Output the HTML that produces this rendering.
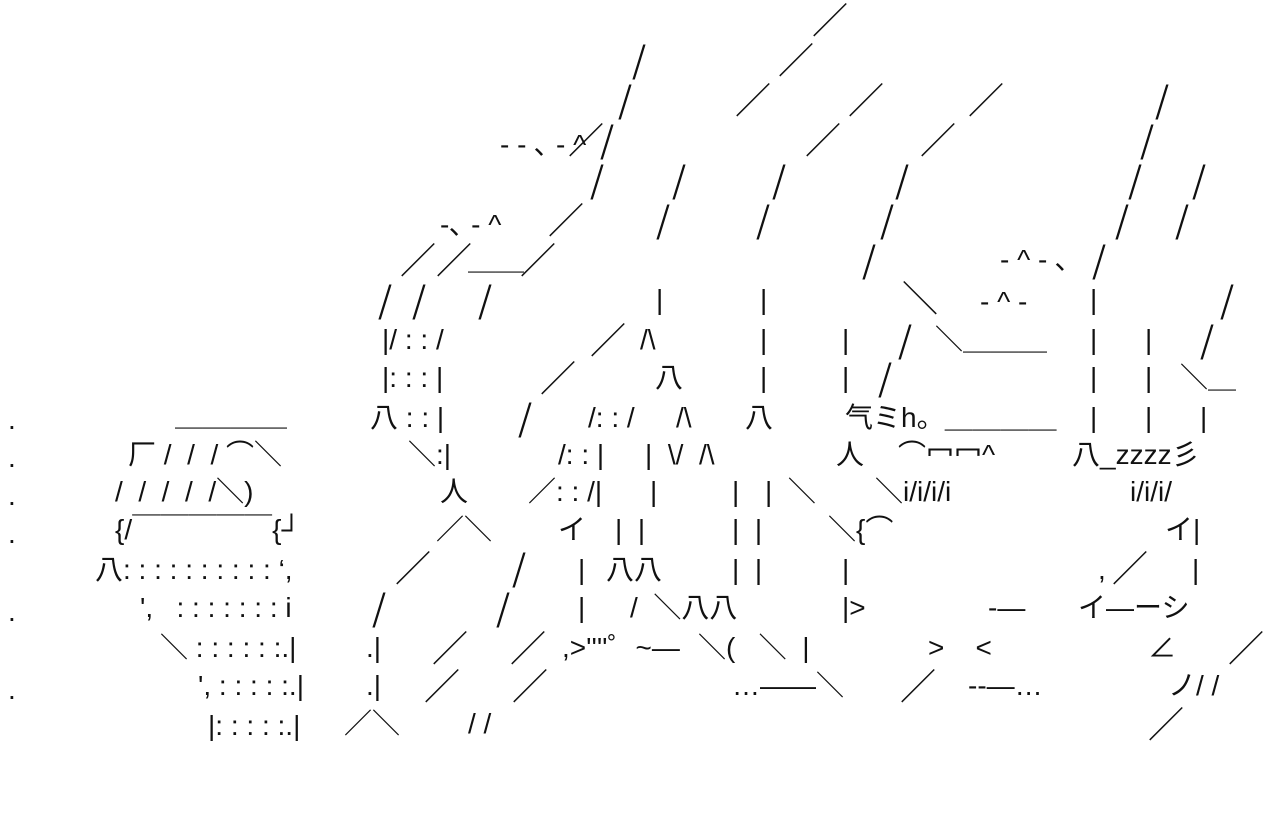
<!DOCTYPE html>
<html><head><meta charset="utf-8"><style>
html,body{margin:0;padding:0;background:#fff;}
#c{position:relative;width:1265px;height:819px;overflow:hidden;background:#fff;}
#c span{position:absolute;white-space:pre;font-family:"Liberation Sans","Noto Sans CJK JP",sans-serif;font-size:28px;line-height:40px;color:#111;}
#c span.b{font-size:36px;font-family:"Noto Sans CJK JP",sans-serif;}
</style></head><body><div id="c">
<span class="b" style="left:812px;top:-2px">／</span>
<span class="b" style="left:632px;top:38px">/</span><span class="b" style="left:778px;top:38px">／</span>
<span class="b" style="left:618px;top:78px">/</span><span class="b" style="left:735px;top:78px">／</span><span class="b" style="left:848px;top:78px">／</span><span class="b" style="left:968px;top:78px">／</span><span class="b" style="left:1155px;top:78px">/</span>
<span style="left:500px;top:125px">- ‐ ､ - ^</span><span class="b" style="left:568px;top:118px">／</span><span class="b" style="left:600px;top:118px">/</span><span class="b" style="left:805px;top:118px">／</span><span class="b" style="left:920px;top:118px">／</span><span class="b" style="left:1140px;top:118px">/</span>
<span class="b" style="left:590px;top:158px">/</span><span class="b" style="left:672px;top:158px">/</span><span class="b" style="left:772px;top:158px">/</span><span class="b" style="left:895px;top:158px">/</span><span class="b" style="left:1128px;top:158px">/</span><span class="b" style="left:1192px;top:158px">/</span>
<span style="left:440px;top:205px">-､ - ^</span><span class="b" style="left:548px;top:198px">／</span><span class="b" style="left:656px;top:198px">/</span><span class="b" style="left:756px;top:198px">/</span><span class="b" style="left:880px;top:198px">/</span><span class="b" style="left:1115px;top:198px">/</span><span class="b" style="left:1175px;top:198px">/</span>
<span class="b" style="left:400px;top:238px">／</span><span class="b" style="left:436px;top:238px">／</span><span style="left:468px;top:240px">＿＿</span><span class="b" style="left:520px;top:238px">／</span><span class="b" style="left:862px;top:238px">/</span><span style="left:1000px;top:240px">- ^ - ､</span><span class="b" style="left:1092px;top:238px">/</span>
<span class="b" style="left:378px;top:278px">/</span><span class="b" style="left:412px;top:278px">/</span><span class="b" style="left:478px;top:278px">/</span><span style="left:656px;top:280px">|</span><span style="left:760px;top:280px">|</span><span class="b" style="left:902px;top:276px">＼</span><span style="left:980px;top:282px">- ^ -</span><span style="left:1090px;top:280px">|</span><span class="b" style="left:1220px;top:278px">/</span>
<span style="left:382px;top:320px">|/ : : /</span><span class="b" style="left:590px;top:318px">／</span><span style="left:640px;top:320px">/\</span><span style="left:760px;top:320px">|</span><span style="left:842px;top:320px">|</span><span class="b" style="left:898px;top:318px">/</span><span style="left:935px;top:320px">＼＿＿＿</span><span style="left:1090px;top:320px">|</span><span style="left:1145px;top:320px">|</span><span class="b" style="left:1200px;top:318px">/</span>
<span style="left:382px;top:358px">|: : : |</span><span class="b" style="left:540px;top:356px">／</span><span style="left:655px;top:358px">八</span><span style="left:760px;top:358px">|</span><span style="left:842px;top:358px">|</span><span class="b" style="left:878px;top:356px">/</span><span style="left:1090px;top:358px">|</span><span style="left:1145px;top:358px">|</span><span style="left:1180px;top:358px">＼＿</span>
<span style="left:8px;top:400px">.</span><span style="left:175px;top:396px">＿＿＿＿</span><span style="left:370px;top:398px">八 : : |</span><span class="b" style="left:518px;top:396px">/</span><span style="left:588px;top:398px">/: : /</span><span style="left:676px;top:398px">/\</span><span style="left:745px;top:398px">八</span><span style="left:845px;top:398px">气ミh。＿＿＿＿</span><span style="left:1090px;top:398px">|</span><span style="left:1145px;top:398px">|</span><span style="left:1200px;top:398px">|</span>
<span style="left:8px;top:438px">.</span><span style="left:128px;top:435px">厂 /  /  / ⌒＼</span><span style="left:408px;top:435px">＼:|</span><span style="left:558px;top:435px">/: : |</span><span style="left:645px;top:435px">|  \/  /\</span><span style="left:836px;top:435px">人</span><span style="left:898px;top:435px">⌒冖冖^</span><span style="left:1072px;top:435px">八_zzzz彡</span>
<span style="left:8px;top:476px">.</span><span style="left:115px;top:472px">/  /  /  /  /＼)</span><span style="left:440px;top:472px">人</span><span style="left:528px;top:472px">／: : /|</span><span style="left:650px;top:472px">|</span><span style="left:732px;top:472px">|</span><span style="left:765px;top:472px">|  ＼</span><span style="left:875px;top:472px">＼i/i/i/i</span><span style="left:1130px;top:472px">i/i/i/</span>
<span style="left:8px;top:514px">.</span><span style="left:115px;top:510px">{/￣￣￣￣￣{┘</span><span style="left:436px;top:510px">／＼</span><span style="left:558px;top:510px">イ</span><span style="left:615px;top:510px">|  |</span><span style="left:732px;top:510px">|  |</span><span style="left:828px;top:510px">＼{⌒</span><span style="left:1165px;top:510px">イ|</span>
<span style="left:95px;top:550px">八: : : : : : : : : : ‘,</span><span class="b" style="left:395px;top:546px">／</span><span class="b" style="left:512px;top:546px">/</span><span style="left:578px;top:550px">|</span><span style="left:606px;top:550px">八八</span><span style="left:732px;top:550px">|  |</span><span style="left:842px;top:550px">|</span><span style="left:1098px;top:550px">,</span><span class="b" style="left:1112px;top:546px">／</span><span style="left:1192px;top:550px">|</span>
<span style="left:8px;top:592px">.</span><span style="left:140px;top:588px">',   : : : : : : : i</span><span class="b" style="left:372px;top:586px">/</span><span class="b" style="left:496px;top:586px">/</span><span style="left:578px;top:588px">|</span><span style="left:630px;top:588px">/  ＼八八</span><span style="left:842px;top:588px">|&gt;</span><span style="left:988px;top:588px">-―</span><span style="left:1078px;top:588px">イ―ーシ</span>
<span style="left:160px;top:628px">＼ : : : : : :.|</span><span style="left:366px;top:628px">.|</span><span class="b" style="left:432px;top:626px">／</span><span class="b" style="left:510px;top:626px">／</span><span style="left:562px;top:628px">,&gt;''''゜~―</span><span style="left:698px;top:628px">＼(   ＼  |</span><span style="left:928px;top:628px">&gt;    &lt;</span><span style="left:1148px;top:628px">∠</span><span class="b" style="left:1228px;top:626px">／</span>
<span style="left:8px;top:670px">.</span><span style="left:198px;top:666px">', : : : : :.|</span><span style="left:366px;top:666px">.|</span><span class="b" style="left:424px;top:664px">／</span><span class="b" style="left:512px;top:664px">／</span><span style="left:732px;top:666px">…――＼</span><span class="b" style="left:900px;top:664px">／</span><span style="left:968px;top:666px">‐‐―…</span><span style="left:1168px;top:666px">ノ/ /</span>
<span style="left:208px;top:706px">|: : : : :.|</span><span style="left:344px;top:704px">／＼</span><span style="left:468px;top:704px">/ /</span><span class="b" style="left:1148px;top:702px">／</span>
</div></body></html>
